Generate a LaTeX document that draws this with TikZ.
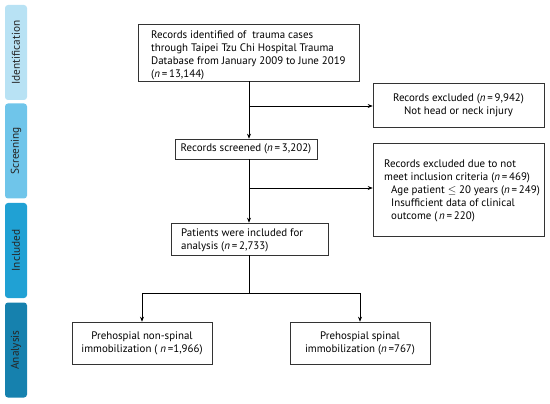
\documentclass[tikz,border=0pt]{standalone}
\usepackage{fontspec}
\setmainfont{PT Sans}
\usetikzlibrary{arrows.meta}
\newcommand{\nn}{\textit{n}}
\begin{document}
\begin{tikzpicture}[x=1pt,y=-1pt,
  every node/.style={font=\fontsize{10.9}{13}\selectfont, inner sep=0pt},
  sidetext/.style={rotate=90, font=\fontsize{11.3}{13}\selectfont, text=black!85},
  box/.style={draw=black!80, line width=0.6pt, fill=white},
  side/.style={rounded corners=3pt, minimum width=22pt, minimum height=95pt},
  arr/.style={line width=0.6pt, -{Stealth[length=5pt,width=4pt]}},
  ln/.style={line width=0.6pt}]
\useasboundingbox (0,0) rectangle (550,404);
% side bars
\node[side, fill={rgb,255:red,184;green,226;blue,244}] (s1) at (16,52.5) {};
\node[sidetext] at (s1) {Identification};
\node[side, fill={rgb,255:red,111;green,197;blue,234}] (s2) at (16,151) {};
\node[sidetext] at (s2) {Screening};
\node[side, fill={rgb,255:red,32;green,161;blue,212}] (s3) at (16,250.5) {};
\node[sidetext] at (s3) {Included};
\node[side, fill={rgb,255:red,22;green,129;blue,174}] (s4) at (16,350) {};
\node[sidetext] at (s4) {Analysis};
% boxes
\node[box, minimum width=221pt, minimum height=57pt] (b1) at (248.5,52.5) {};
\node[align=left, anchor=north west] at (151,31) {Records identified of \ trauma cases\\through Taipei Tzu Chi Hospital Trauma\\Database from January 2009 to June 2019\\(\nn\,=\,13,144)};
\node[box, minimum width=171pt, minimum height=44pt, align=center] (e1) at (458.5,105) {Records excluded (\nn\,=\,9,942)\\Not head or neck injury};
\node[box, minimum width=142pt, minimum height=20pt] (sc) at (246,149) {Records screened (\nn\,=\,3,202)};
\node[box, minimum width=171pt, minimum height=93pt] (e2) at (458.5,189.5) {};
\node[align=left, anchor=north west] at (384,160) {Records excluded due to not\\meet inclusion criteria (\nn\,=\,469)\\\hspace*{7pt}Age patient $\leq$ 20 years (\nn\,=\,249)\\\hspace*{7pt}Insufficient data of clinical\\\hspace*{7pt}outcome (\,\nn\,=\,220)};
\node[box, minimum width=157pt, minimum height=32pt] (inc) at (249.5,239) {};
\node[align=left, anchor=north west] at (181,229) {Patients were included for\\analysis (\nn\,=\,2,733)};
\node[box, minimum width=140pt, minimum height=42pt, align=center] (l) at (142,343) {Prehospial non-spinal\\immobilization ( \nn\,=1,966)};
\node[box, minimum width=140pt, minimum height=42pt, align=center] (r) at (360,343) {Prehospial spinal\\immobilization (\nn\,=767)};
% connectors
\coordinate (c1) at (249,106);
\coordinate (c2) at (249,188);
\coordinate (c3) at (249,293);
\coordinate (cl) at (142,293);
\coordinate (cr) at (360,293);
\draw[arr] (b1.south -| c1) -- (sc.north -| c1);
\draw[arr] (c1) -- (c1 -| e1.west);
\draw[arr] (sc.south -| c2) -- (inc.north -| c2);
\draw[arr] (c2) -- (c2 -| e2.west);
\draw[ln] (inc.south -| c3) -- (c3);
\draw[ln] (cl) -- (cr);
\draw[arr] (cl) -- (l.north);
\draw[arr] (cr) -- (r.north);
\end{tikzpicture}
\end{document}
